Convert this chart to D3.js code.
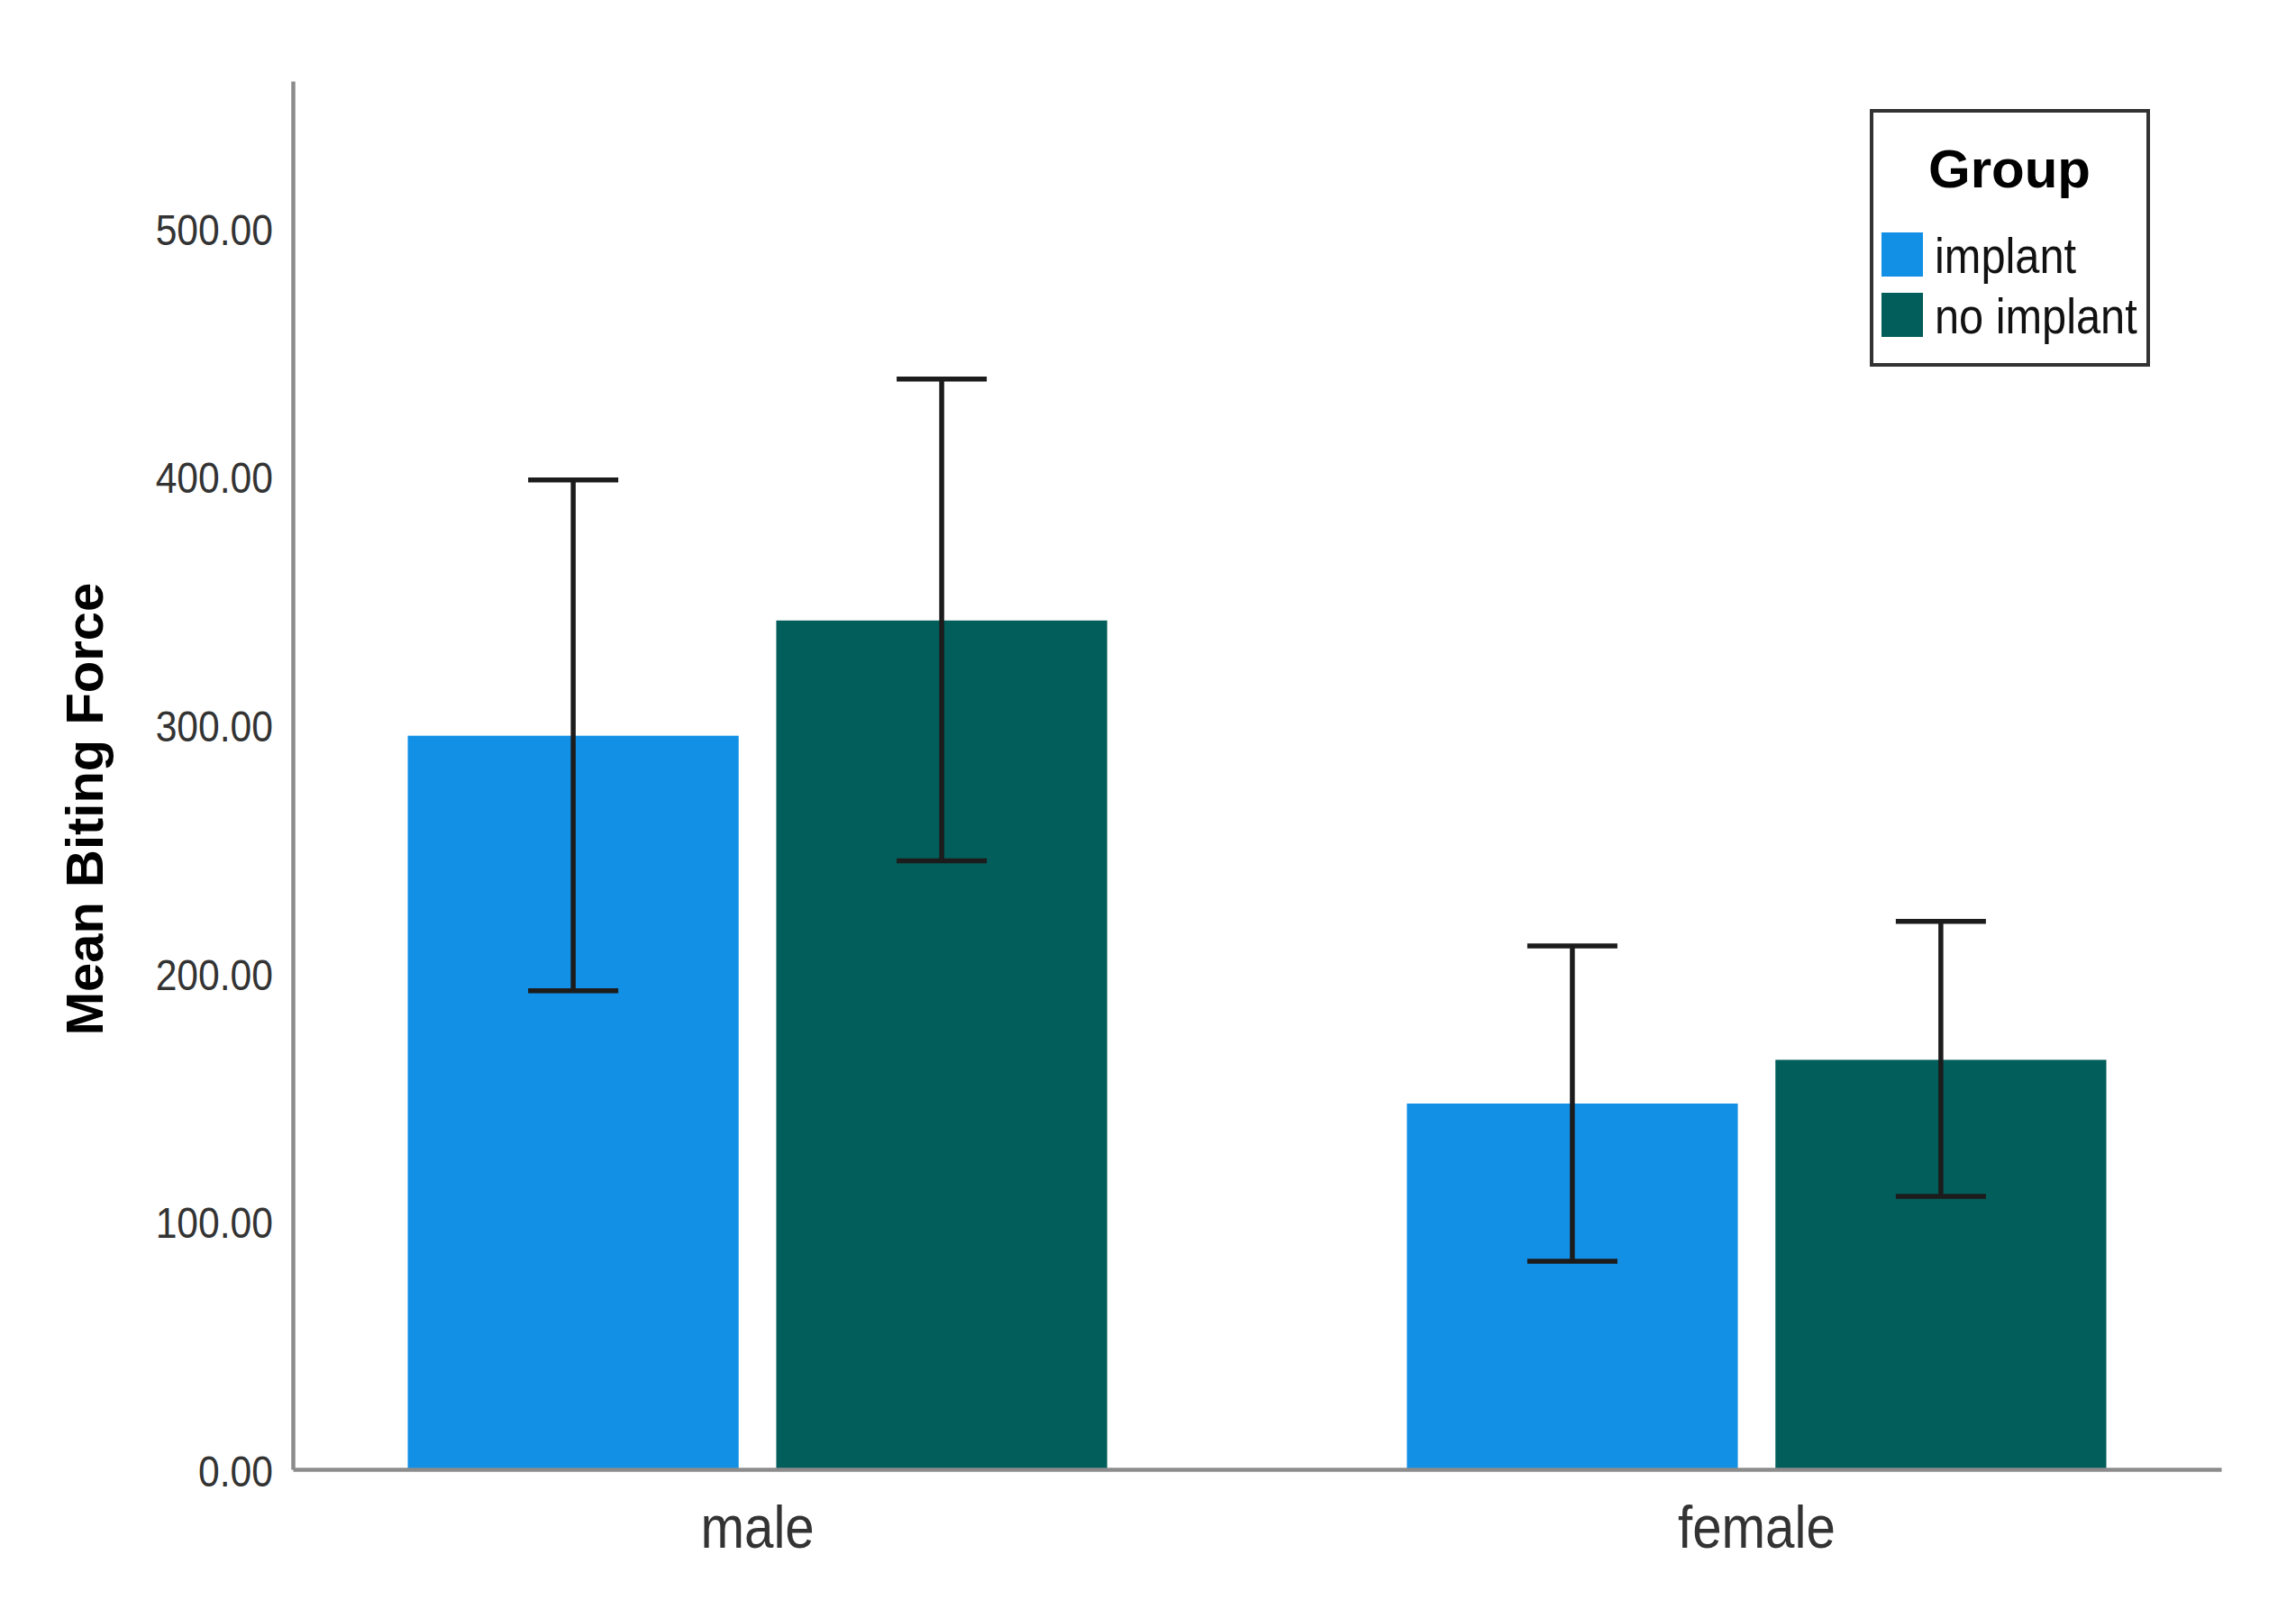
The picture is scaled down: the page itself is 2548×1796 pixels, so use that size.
<!DOCTYPE html>
<html>
<head>
<meta charset="utf-8">
<script src="https://cdn.jsdelivr.net/npm/d3@7"></script>
<style>
  body { margin: 0; background: #fff; }
  text { font-family: "Liberation Sans", Arial, sans-serif; }
</style>
</head>
<body>
<script>
// values
const categories = ['male', 'female'];
const groups = ['implant', 'no implant'];
const implantMean = [295.4, 147.3];
const implantLow = [192.7, 83.8];
const implantHigh = [398.4, 210.8];
const noImplantMean = [341.8, 164.9];
const noImplantLow = [245.0, 109.9];
const noImplantHigh = [439.0, 220.6];
const yTicks = [0, 100, 200, 300, 400, 500];
const yMax = 559;

const colors = { 'implant': '#1290e6', 'no implant': '#025e5b' };

const W = 2548, H = 1796;
const plotLeft = 325, plotRight = 2465, plotTop = 90, plotBottom = 1631;
const squeeze = 0.87; // the original text is slightly condensed

const rows = [];
categories.forEach((c, i) => {
  rows.push({ cat: c, group: 'implant', mean: implantMean[i], lo: implantLow[i], hi: implantHigh[i] });
  rows.push({ cat: c, group: 'no implant', mean: noImplantMean[i], lo: noImplantLow[i], hi: noImplantHigh[i] });
});

const svg = d3.select('body').append('svg')
  .attr('width', W)
  .attr('height', H);

const x0 = d3.scaleBand()
  .domain(categories)
  .range([plotLeft, plotRight])
  .paddingInner(0.3)
  .paddingOuter(0.115);

const x1 = d3.scaleBand()
  .domain(groups)
  .range([0, x0.bandwidth()])
  .paddingInner(0.102);

const y = d3.scaleLinear()
  .domain([0, yMax])
  .range([plotBottom, plotTop]);

// bars
svg.append('g')
  .attr('class', 'bars')
  .selectAll('rect')
  .data(rows)
  .join('rect')
  .attr('x', d => x0(d.cat) + x1(d.group))
  .attr('y', d => y(d.mean))
  .attr('width', x1.bandwidth())
  .attr('height', d => y(0) - y(d.mean))
  .attr('fill', d => colors[d.group]);

// error bars
const capHalf = 50;
const err = svg.append('g')
  .attr('class', 'errors')
  .attr('stroke', '#1c1c1c')
  .attr('stroke-width', 5.5)
  .selectAll('g')
  .data(rows)
  .join('g')
  .attr('transform', d => `translate(${x0(d.cat) + x1(d.group) + x1.bandwidth() / 2},0)`);

err.append('line')
  .attr('y1', d => y(d.lo))
  .attr('y2', d => y(d.hi));
err.append('line')
  .attr('x1', -capHalf).attr('x2', capHalf)
  .attr('y1', d => y(d.hi)).attr('y2', d => y(d.hi));
err.append('line')
  .attr('x1', -capHalf).attr('x2', capHalf)
  .attr('y1', d => y(d.lo)).attr('y2', d => y(d.lo));

// y axis
const yAxis = svg.append('g')
  .attr('transform', `translate(${plotLeft},0)`)
  .call(d3.axisLeft(y).tickValues(yTicks).tickFormat(d3.format('.2f')).tickSize(0).tickSizeOuter(0));

yAxis.select('.domain')
  .attr('stroke', '#8c8c8c')
  .attr('stroke-width', 4.5);
yAxis.selectAll('.tick text')
  .attr('x', null)
  .attr('dy', '0.38em')
  .attr('transform', `translate(-22,0) scale(${squeeze},1)`)
  .attr('font-size', 49)
  .attr('fill', '#333')
  .style('font-family', '"Liberation Sans", Arial, sans-serif');

// x axis
const xAxis = svg.append('g')
  .attr('transform', `translate(0,${plotBottom})`)
  .call(d3.axisBottom(x0).tickSize(0).tickSizeOuter(0));

xAxis.select('.domain')
  .attr('stroke', '#8c8c8c')
  .attr('stroke-width', 4.5);
xAxis.selectAll('.tick text')
  .attr('y', null)
  .attr('dy', null)
  .attr('transform', `translate(0,87) scale(${squeeze},1)`)
  .attr('font-size', 67)
  .attr('fill', '#333')
  .style('font-family', '"Liberation Sans", Arial, sans-serif');

// y axis title
svg.append('text')
  .attr('transform', `translate(114,${(650 + 1146) / 2}) rotate(-90)`)
  .attr('text-anchor', 'middle')
  .attr('font-size', 58)
  .attr('font-weight', 'bold')
  .attr('fill', '#000')
  .text('Mean Biting Force');

// legend
const legend = svg.append('g').attr('class', 'legend');
legend.append('rect')
  .attr('x', 2077).attr('y', 123)
  .attr('width', 307).attr('height', 282)
  .attr('fill', '#fff')
  .attr('stroke', '#333')
  .attr('stroke-width', 4);

legend.append('text')
  .attr('x', 2230).attr('y', 208)
  .attr('text-anchor', 'middle')
  .attr('font-size', 60)
  .attr('font-weight', 'bold')
  .attr('fill', '#000')
  .text('Group');

const item = legend.selectAll('g.item')
  .data(groups)
  .join('g')
  .attr('class', 'item')
  .attr('transform', (d, i) => `translate(2088,${258 + i * 67})`);

item.append('rect')
  .attr('width', 46)
  .attr('height', 49)
  .attr('fill', d => colors[d]);

item.append('text')
  .attr('transform', `translate(59,45) scale(${squeeze},1)`)
  .attr('font-size', 56)
  .attr('fill', '#111')
  .text(d => d);
</script>
</body>
</html>
